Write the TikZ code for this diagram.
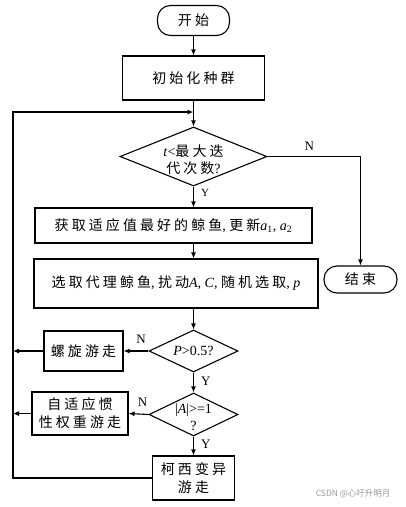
\documentclass[tikz,border=0pt]{standalone}
\usepackage{fontspec}
\setmainfont{Liberation Serif}
\newfontfamily\cjk[LetterSpace=22]{Noto Sans CJK SC}
\newfontfamily\wmfont{Noto Sans CJK SC}
\usepackage{tikz}
\usetikzlibrary{positioning,arrows.meta,calc,shapes.geometric}
\newcommand{\zh}[1]{{\cjk #1}}
\newcommand{\vi}[1]{\textit{#1}}

\begin{document}
\begin{tikzpicture}[
    x=1pt, y=-1pt,
    >=Latex,
    font=\fontsize{14}{18}\selectfont,
    basebox/.style={
      draw=black,
      line width=1.1pt,
      align=center,
      inner sep=0pt
    },
    term/.style={basebox, rounded corners=13pt},
    procbox/.style={basebox},
    decision/.style={basebox, diamond},
    dlab/.style={align=center, inner sep=0pt, font=\fontsize{14}{17}\selectfont},
    flow/.style={-{Latex[length=6pt,width=5pt]}, draw=black, line width=1.1pt},
    lab/.style={font=\fontsize{13}{14}\selectfont, inner sep=1pt}
  ]
    \useasboundingbox (0,0) rectangle (406,507);

    \node[term, minimum width=72pt, minimum height=30pt] (start) at (193.5,20.5) {\zh{开始}};
    \node[procbox, minimum width=142pt, minimum height=44pt] (init) at (193.5,78) {\zh{初始化种群}};

    \node[decision, minimum width=147pt, minimum height=59pt,
      label={[dlab, yshift=-3pt]center:\vi{t}<\zh{最大迭}\\\zh{代次数}?}] (iter) at (193.5,156.5) {};

    \node[procbox, minimum width=277pt, minimum height=35pt] (best) at (173.5,225.5)
      {\zh{获取适应值最好的鲸鱼}, \zh{更新}\vi{a}\textsubscript{1}, \vi{a}\textsubscript{2}};
    \node[procbox, minimum width=284pt, minimum height=49pt] (select) at (176,283.5)
      {\zh{选取代理鲸鱼}, \zh{扰动}\vi{A}, \vi{C}, \zh{随机选取}, \vi{p}};

    \node[term, minimum width=73pt, minimum height=27pt] (stop) at (360.5,279.5) {\zh{结束}};

    \node[decision, minimum width=89pt, minimum height=42pt,
      label={[dlab]center:\vi{P}>0.5?}] (pcheck) at (193.5,351) {};
    \node[procbox, minimum width=79pt, minimum height=40pt] (spiral) at (83.5,351) {\zh{螺旋游走}};

    \node[decision, minimum width=89pt, minimum height=43pt,
      label={[dlab, yshift=-3pt]center:|\vi{A}|>=1\\?}] (acheck) at (193.5,414.5) {};
    \node[procbox, minimum width=96pt, minimum height=43pt] (inertia) at (80,413.5)
      {\zh{自适应惯}\\\zh{性权重游走}};

    \node[procbox, minimum width=82pt, minimum height=44pt] (cauchy) at (193.5,478)
      {\zh{柯西变异}\\\zh{游走}};

    \coordinate (merge) at (193.5,112);
    \coordinate (loopbot) at (13,478);
    \coordinate (looptop) at (13,112);

    % main line
    \draw[flow] (start) -- (init);
    \draw[flow] (init) -- (iter);
    \draw[flow] (iter.south) -- node[lab, font=\fontsize{11}{12}\selectfont, right=6pt, pos=.3] {Y} (iter.south |- best.north);
    \draw[flow] (iter.south |- best.south) -- (iter.south |- select.north);
    \draw[flow] (iter.south |- select.south) -- (pcheck.north);
    \draw[flow] (pcheck) -- node[lab, right=6pt, pos=.45] {Y} (acheck);
    \draw[flow] (acheck) -- node[lab, right=6pt, pos=.4] {Y} (cauchy);

    % exit
    \draw[flow] (iter.east) -- node[lab, above=4pt, pos=.45] {N} (iter.east -| stop) -- (stop.north);

    % branches
    \draw[flow] (pcheck.west) -- node[lab, above=6pt, pos=.3] {N} (spiral.east);
    \draw[flow] (spiral.west) -- (spiral.west -| looptop);
    \draw[flow] (acheck.west) -- node[lab, above=6pt, pos=.3] {N} (inertia.east);
    \draw[flow] (inertia.west) -- (inertia.west -| looptop);

    % loop back
    \draw[flow] (cauchy.west) -- (loopbot) -- (looptop) -- (merge);

    \node[text=black!40, font=\wmfont\fontsize{8.5}{10}\selectfont, anchor=east] (mark) at (394,494) {CSDN @心吁升明月};
  \end{tikzpicture}
\end{document}
